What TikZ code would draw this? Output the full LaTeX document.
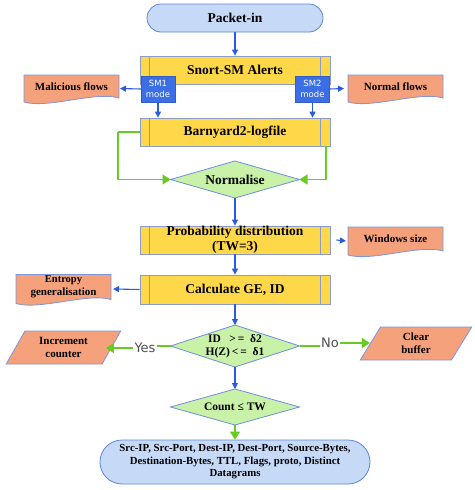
\documentclass[tikz,border=0pt]{standalone}
\usepackage{fontspec}
\setmainfont{Liberation Serif}
\newfontfamily\sansf{DejaVu Sans}
\usetikzlibrary{shapes.geometric,arrows.meta,backgrounds}
\definecolor{pktfill}{HTML}{C6DAF7}
\definecolor{pktdraw}{HTML}{5B86D6}
\definecolor{yel}{HTML}{FFD84A}
\definecolor{yeldraw}{HTML}{8C9CC8}
\definecolor{smblue}{HTML}{3C6EE6}
\definecolor{salmon}{HTML}{F5A27C}
\definecolor{saldraw}{HTML}{7D96D8}
\definecolor{dgreen}{HTML}{C9F2A8}
\definecolor{ddraw}{HTML}{6C8FE0}
\definecolor{arrblue}{HTML}{2A5BE0}
\definecolor{lgreen}{HTML}{66CC22}
\definecolor{txtgrey}{HTML}{505050}
\tikzset{
  pktbox/.style={draw=pktdraw, fill=pktfill, line width=0.8pt, align=center, font=\fontsize{13.5}{15}\selectfont\bfseries},
  predef/.style={draw=yeldraw, fill=yel, line width=0.8pt, minimum width=190pt, align=center, inner sep=0pt, font=\fontsize{13.5}{15}\selectfont\bfseries},
  smbox/.style={draw=smblue!85!black, fill=smblue, line width=0.5pt, minimum width=34pt, minimum height=26pt, inner sep=0pt, align=center, text=white, font=\sansf\fontsize{8.5}{10.5}\selectfont},
  doctext/.style={align=center, inner sep=0pt, font=\fontsize{11}{13}\selectfont\bfseries},
  docshape/.style={draw=saldraw, fill=salmon, line width=0.8pt},
  decshape/.style={draw=ddraw, fill=dgreen, line width=0.8pt},
  dectext/.style={inner sep=0pt, align=center, font=\fontsize{11.5}{13.5}\selectfont\bfseries},
  para/.style={trapezium, trapezium stretches=true, draw=saldraw, fill=salmon, line width=0.8pt, inner sep=0pt, align=center, font=\fontsize{11}{13}\selectfont\bfseries},
  barr/.style={draw=arrblue, line width=1.1pt, -{Triangle[length=6pt,width=6pt]}},
  garr/.style={draw=lgreen, line width=1.6pt, -{Triangle[length=8pt,width=10pt]}},
  gline/.style={draw=lgreen, line width=1.6pt},
  yn/.style={text=txtgrey, inner sep=1pt, font=\sansf\fontsize{13}{15}\selectfont}
}
% name, cx, cy, w, h, text
\newcommand\docbox[6]{%
  \filldraw[docshape] (#2-#4/2,#3-#5/2) -- (#2+#4/2,#3-#5/2) -- (#2+#4/2,#3+#5/2-4)
    .. controls (#2+#4/4,#3+#5/2-11) and (#2-#4/4,#3+#5/2+7) .. (#2-#4/2,#3+#5/2) -- cycle;
  \node[doctext] (#1) at (#2,#3-2) {#6};
  \coordinate (#1-w) at (#2-#4/2,#3);
  \coordinate (#1-e) at (#2+#4/2,#3);
}
% name, cx, cy, w, h, text
\newcommand\decbox[6]{%
  \filldraw[decshape] (#2,#3-#5/2) -- (#2+#4/2,#3) -- (#2,#3+#5/2) -- (#2-#4/2,#3) -- cycle;
  \coordinate (#1-n) at (#2,#3-#5/2);
  \coordinate (#1-s) at (#2,#3+#5/2);
  \coordinate (#1-w) at (#2-#4/2,#3);
  \coordinate (#1-e) at (#2+#4/2,#3);
  \node[dectext] (#1) at (#2,#3) {#6};
}
\newcommand\predefbox[5]{% name, cx, cy, h, text
  \node[predef, minimum height=#4pt] (#1) at (#2,#3) {#5};
  \draw[yeldraw, line width=0.8pt] ([xshift=10pt]#1.north west) -- ([xshift=10pt]#1.south west);
  \draw[yeldraw, line width=0.8pt] ([xshift=-10pt]#1.north east) -- ([xshift=-10pt]#1.south east);
}
\begin{document}
\begin{tikzpicture}[x=1pt,y=-1pt]
\useasboundingbox (0,0) rectangle (474,490);
\fill[white] (0,0) rectangle (474,490);

\node[pktbox, minimum width=176pt, minimum height=28pt, rounded corners=14pt] (pkt) at (235,18) {Packet-in};

\predefbox{snort}{235}{70}{28}{Snort-SM Alerts}
\node[smbox] (sm1) at (158,89) {SM1\\mode};
\node[smbox] (sm2) at (312.5,89) {SM2\\mode};

\docbox{mal}{71.5}{88.5}{95}{27}{Malicious flows}
\docbox{norm}{395.5}{88.5}{95}{27}{Normal flows}

\predefbox{barn}{235}{132}{28}{Barnyard2-logfile}

\decbox{norml}{235}{179.5}{129}{37}{\fontsize{13.5}{15}\selectfont Normalise}

\predefbox{prob}{235}{240}{28}{Probability distribution\\(TW=3)}
\docbox{win}{395.5}{241}{95}{28}{Windows size}

\predefbox{calc}{235}{289.5}{29}{Calculate GE, ID}
\docbox{ent}{63.5}{289}{95}{29}{\fontsize{10.5}{11.5}\selectfont Entropy\\generalisation}

\decbox{cond}{235}{346}{129}{42}{ID\ \ \ >\,=\ \ δ2\\H(Z)\,<\,=\ \ δ1}

\node[para, trapezium left angle=60, trapezium right angle=120, minimum width=115pt, minimum height=33pt] (inc) at (63.5,347.5) {Increment\\counter};
\node[para, trapezium left angle=68, trapezium right angle=112, minimum width=112pt, minimum height=33pt] (clr) at (416,343.5) {Clear\\buffer};

\node[yn] (yes) at (145,348) {Yes};
\node[yn] (no) at (330,343) {No};

\decbox{cnt}{235}{407}{129}{36}{Count ≤ TW}

\node[pktbox, minimum width=270pt, minimum height=44pt, rounded corners=22pt, inner sep=0pt, font=\fontsize{10.8}{12.6}\selectfont\bfseries] (out) at (235,462) {Src-IP, Src-Port, Dest-IP, Dest-Port, Source-Bytes,\\Destination-Bytes, TTL, Flags, proto, Distinct\\Datagrams};

% connectors
\draw[barr] (pkt.south) -- (snort.north);
\draw[barr] (sm1.west) -- ([xshift=1pt]mal-e);
\draw[barr] (sm2.east) -- ([xshift=-4pt]norm-w);
\draw[barr] (sm1.south) -- (sm1.south |- barn.north);
\draw[barr] (sm2.south) -- (sm2.south |- barn.north);
\coordinate (gl) at (118,132);
\coordinate (gr) at (326,146);
\draw[gline] (barn.west) -- (gl);
\draw[garr] (gl) |- (norml-w);
\draw[garr] (gr) |- (norml-e);
\draw[barr] (norml-s) -- (prob.north);
\draw[barr] ([xshift=6pt]prob.east) -- ([xshift=-2pt]win-w);
\draw[barr] (prob.south) -- (calc.north);
\draw[barr] (calc.west) -- ([xshift=2pt]ent-e);
\draw[barr] (calc.south) -- (cond-n);
\draw[gline] (cond-w) -- (yes.east |- cond-w);
\draw[garr] (yes.west) -- ([xshift=-6pt]yes.west -| inc.east);
\draw[gline] (cond-e) -- (no.west |- cond-e);
\draw[garr] (no.east) -- (no.east -| clr.west);
\draw[barr] (cond-s) -- (cnt-n);
\draw[garr] (cnt-s) -- (out.north);
\end{tikzpicture}
\end{document}
